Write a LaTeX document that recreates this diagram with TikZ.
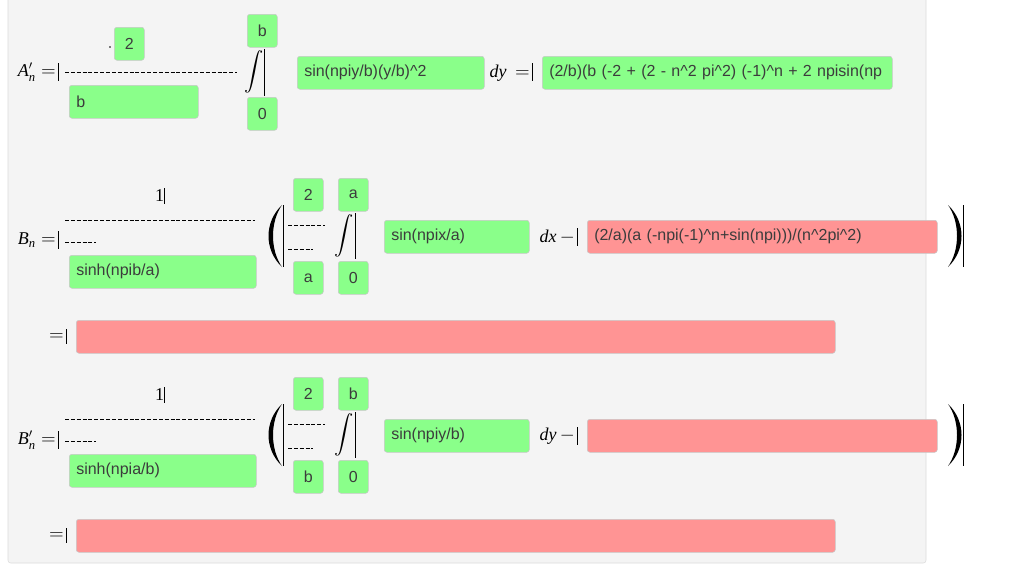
\documentclass[tikz,border=0pt]{standalone}
\usepackage{xcolor}
\usepackage{exscale}
\usepackage{fontspec}
\setmainfont{Liberation Serif}
\newfontfamily\fieldfont{Liberation Sans}
\definecolor{panelgray}{HTML}{F4F4F4}
\definecolor{panelline}{HTML}{DCDCDC}
\definecolor{okgreen}{HTML}{8AFF8A}
\definecolor{badred}{HTML}{FF9494}
\definecolor{fieldline}{HTML}{C8C8C8}
\definecolor{fieldtext}{HTML}{3C3C3C}
\newcommand{\pow}{\textasciicircum}

\begin{document}
\begin{tikzpicture}[x=0.75pt,y=-0.75pt,
  field/.style={draw=fieldline, rounded corners=2pt, anchor=north west, inner xsep=5.25pt, inner ysep=0pt,
    minimum height=24.75pt, align=left, font=\fieldfont\fontsize{12}{14}\selectfont, text=fieldtext},
  good/.style={field, fill=okgreen},
  bad/.style={field, fill=badred},
  cell/.style={good, inner xsep=0pt, minimum width=22.5pt, align=center},
  lab/.style={font=\fontsize{13.5}{16}\selectfont, inner sep=0pt},
  intsign/.style={font=\fontsize{15}{18}\selectfont, inner sep=0pt},
  caret/.style={black, line width=0.6pt},
  frac/.style={black, line width=0.7pt, dash pattern=on 3pt off 1.4pt}]
  \useasboundingbox (0,0) rectangle (1024,568);
  \fill[white] (0,0) rectangle (1024,568);
  \draw[panelline, fill=panelgray, rounded corners=2pt] (8,-5) rectangle (926,563);

  %first row
  \node[lab, anchor=east] (lblA) at (56,72) {$\mathit{A}'_{\mathit{n}} =$};
  \draw[caret] (58,63) -- (58,81);
  \fill (110,47) circle (0.8);
  \node[cell] (numA) at (114,27) {2};
  \draw[frac] (65,72) -- (237,72);
  \node[good, text width=86.25pt] (denA) at (69,85) {b};
  \node[cell] (upA) at (247,14) {b};
  \node[cell] (loA) at (247,97) {0};
  \node[intsign] (intA) at (254,72) {$\displaystyle\int$};
  \draw[caret] (264,49) -- (264,96);
  \node[good, text width=129.75pt] (fA) at (297,56) {sin(npiy/b)(y/b)\pow2};
  \node[lab, anchor=east] (dyA) at (530,73) {$\mathit{dy}\,=$};
  \draw[caret] (532,63) -- (532,81);
  \node[good, text width=252pt] (resA) at (542,56) {\mbox{(2/b)(b (-2 + (2 - n\pow2 pi\pow2) (-1)\pow n + 2 npisin(np}};

  %second row
  \node[lab, anchor=east] (lblB) at (56,240) {$\mathit{B}_{\mathit{n}} =$};
  \draw[caret] (58,231) -- (58,249);
  \node[lab] (oneB) at (159.5,196) {1};
  \draw[caret] (164,188) -- (164,204);
  \draw[frac] (65,220) -- (255,220);
  \draw[frac] (65,242) -- (96,242);
  \node[good, text width=129.75pt] (denB) at (69,255) {sinh(npib/a)};
  \fill (282,205) .. controls (264,222) and (264,250) .. (282,267) .. controls (270,250) and (270,222) .. (282,205);
  \draw[caret] (283,205) -- (283,267);
  \node[cell] (numB) at (293,178) {2};
  \node[cell] (nadB) at (293,261) {a};
  \draw[frac] (288,225) -- (325,225);
  \draw[frac] (288,249) -- (313,249);
  \node[cell] (upB) at (338,178) {a};
  \node[cell] (loB) at (338,261) {0};
  \node[intsign] (intB) at (344,236) {$\displaystyle\int$};
  \draw[caret] (355,213) -- (355,259);
  \node[good, text width=98.25pt] (fB) at (384,220) {sin(npix/a)};
  \node[lab, anchor=east] (dxB) at (575,237) {$\mathit{dx}\,-$};
  \draw[caret] (577,228) -- (577,246);
  \node[bad, text width=252pt] (resB) at (587,220) {\mbox{(2/a)(a (-npi(-1)\pow n+sin(npi)))/(n\pow2pi\pow2)}};
  \fill (948,205) .. controls (966,222) and (966,250) .. (948,267) .. controls (960,250) and (960,222) .. (948,205);
  \draw[caret] (963,205) -- (963,267);
  \node[lab, anchor=east] (eqB) at (64,337) {$=$};
  \draw[caret] (66,329) -- (66,344);
  \node[bad, text width=558.75pt] (totB) at (76,320) {};

  %third row
  \node[lab, anchor=east] (lblC) at (56,440) {$\mathit{B}'_{\mathit{n}} =$};
  \draw[caret] (58,431) -- (58,449);
  \node[lab] (oneC) at (159.5,395) {1};
  \draw[caret] (164,387) -- (164,403);
  \draw[frac] (65,419) -- (255,419);
  \draw[frac] (65,441) -- (96,441);
  \node[good, text width=129.75pt] (denC) at (69,454) {sinh(npia/b)};
  \fill (282,404) .. controls (264,421) and (264,449) .. (282,466) .. controls (270,449) and (270,421) .. (282,404);
  \draw[caret] (283,404) -- (283,466);
  \node[cell] (numC) at (293,377) {2};
  \node[cell] (nadC) at (293,460) {b};
  \draw[frac] (288,424) -- (325,424);
  \draw[frac] (288,448) -- (313,448);
  \node[cell] (upC) at (338,377) {b};
  \node[cell] (loC) at (338,460) {0};
  \node[intsign] (intC) at (344,435) {$\displaystyle\int$};
  \draw[caret] (355,412) -- (355,458);
  \node[good, text width=98.25pt] (fC) at (384,419) {sin(npiy/b)};
  \node[lab, anchor=east] (dyC) at (575,436) {$\mathit{dy}\,-$};
  \draw[caret] (577,427) -- (577,445);
  \node[bad, text width=252pt] (resC) at (587,419) {};
  \fill (948,404) .. controls (966,421) and (966,449) .. (948,466) .. controls (960,449) and (960,421) .. (948,404);
  \draw[caret] (963,404) -- (963,466);
  \node[lab, anchor=east] (eqC) at (64,536) {$=$};
  \draw[caret] (66,528) -- (66,543);
  \node[bad, text width=558.75pt] (totC) at (76,519) {};
\end{tikzpicture}
\end{document}
